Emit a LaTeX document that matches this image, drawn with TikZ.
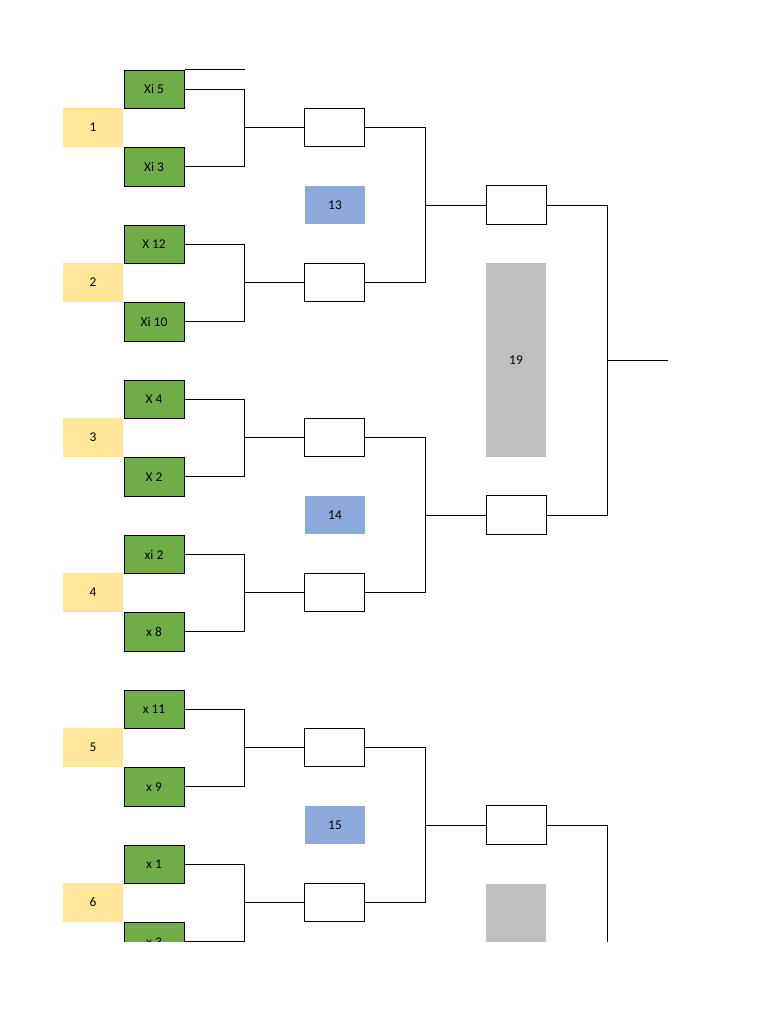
\documentclass[tikz,border=0pt]{standalone}
\usepackage{fontspec}
\setmainfont{Carlito}
\usetikzlibrary{calc}

\definecolor{teamgreen}{HTML}{70AD47}
\definecolor{seedyellow}{HTML}{FFE699}
\definecolor{poolblue}{HTML}{8EA9DB}
\definecolor{byegray}{HTML}{BFBFBF}

\begin{document}
\begin{tikzpicture}[x=0.025cm,y=-0.025cm,
  every node/.style={font=\fontsize{9.5}{11}\selectfont,inner sep=0pt},
  cell/.style={minimum width=1.5cm,minimum height=0.969cm},
  seed/.style={cell,fill=seedyellow},
  team/.style={cell,draw,line width=0.7pt,fill=teamgreen},
  slot/.style={cell,draw,line width=0.7pt,fill=white},
  pool/.style={cell,fill=poolblue},
  bye/.style={minimum width=1.5cm,fill=byegray},
  wire/.style={line width=0.6pt}]
  \useasboundingbox (0,0) rectangle (768,1024);
  \begin{scope}
  \clip (0,0) rectangle (768,941);
  % seeds
  \node[seed] (s1) at (93,127.5) {1};
  \node[seed] (s2) at (93,282.5) {2};
  \node[seed] (s3) at (93,437.5) {3};
  \node[seed] (s4) at (93,592.5) {4};
  \node[seed] (s5) at (93,747.5) {5};
  \node[seed] (s6) at (93,902.5) {6};
  % teams
  \node[team] (t1) at (154,89.4) {Xi 5};
  \node[team] (t2) at (154,166.9) {Xi 3};
  \node[team] (t3) at (154,244.4) {X 12};
  \node[team] (t4) at (154,321.9) {Xi 10};
  \node[team] (t5) at (154,399.4) {X 4};
  \node[team] (t6) at (154,476.9) {X 2};
  \node[team] (t7) at (154,554.4) {xi 2};
  \node[team] (t8) at (154,631.9) {x 8};
  \node[team] (t9) at (154,709.4) {x 11};
  \node[team] (t10) at (154,786.9) {x 9};
  \node[team] (t11) at (154,864.4) {x 1};
  \node[team] (t12) at (154,941.9) {x 3};
  % second round
  \node[slot] (r1) at (334.5,127.5) {};
  \node[slot] (r2) at (334.5,282.5) {};
  \node[slot] (r3) at (334.5,437.5) {};
  \node[slot] (r4) at (334.5,592.5) {};
  \node[slot] (r5) at (334.5,747.5) {};
  \node[slot] (r6) at (334.5,902.5) {};
  \node[pool] (p13) at (335,205) {13};
  \node[pool] (p14) at (335,515) {14};
  \node[pool] (p15) at (335,825) {15};
  % third round
  \node[slot] (q1) at (516.5,205) {};
  \node[slot] (q2) at (516.5,515) {};
  \node[slot] (q3) at (516.5,825) {};
  \node[bye,minimum height=4.84cm] (b19) at (516,360.3) {19};
  \node[bye,minimum height=4.84cm] (b20) at (516,981) {};
  % brackets
  \draw[wire] (t1.north east) -- ++(60,0);
  \foreach \a/\b/\r in {t1/t2/r1,t3/t4/r2,t5/t6/r3,t7/t8/r4,t9/t10/r5,t11/t12/r6}{
    \draw[wire] (\a.east) -- ++(60,0) |- (\b.east);
    \draw[wire] (\r.west) -- ++(-60,0);
  }
  \foreach \a/\b/\r in {r1/r2/q1,r3/r4/q2,r5/r6/q3}{
    \draw[wire] (\a.east) -- ++(60,0) |- (\b.east);
    \draw[wire] (\r.west) -- ++(-60,0);
  }
  \draw[wire] (q1.east) -- ++(60,0) |- (q2.east);
  \coordinate (fin) at ($(q1.east)!0.5!(q2.east)+(60,0)$);
  \draw[wire] (fin) -- ++(61,0);
  \draw[wire] (q3.east) -- ++(60,0) -- ++(0,200);
  \end{scope}
\end{tikzpicture}
\end{document}
